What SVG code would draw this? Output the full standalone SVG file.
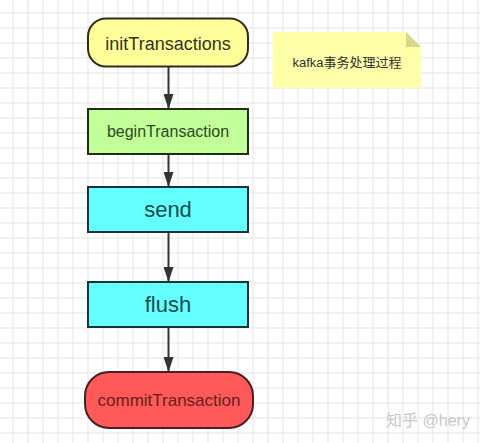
<svg xmlns="http://www.w3.org/2000/svg" width="480" height="443" viewBox="0 0 480 443">
  <defs>
    <pattern id="grid" x="12.5" y="12.5" width="15" height="15" patternUnits="userSpaceOnUse">
      <path d="M0 0.5H15M0.5 0V15" fill="none" stroke="#e4e4e4" stroke-width="1"/>
    </pattern>
    <marker id="arr" markerWidth="15" markerHeight="10" refX="15" refY="5" orient="auto" markerUnits="userSpaceOnUse" viewBox="0 0 15 10">
      <path d="M0 0L15 5L0 10Z" fill="#333333"/>
    </marker>
  </defs>
  <style>
    text { font-family: "Liberation Sans", "Noto Sans CJK SC", Arial, sans-serif; text-anchor: middle; dominant-baseline: central; }
    .conn { stroke: #333333; stroke-width: 2; fill: none; marker-end: url(#arr); }
    .node { stroke-width: 2; }
  </style>
  <rect width="480" height="443" fill="#ffffff"/>
  <rect width="480" height="443" fill="url(#grid)"/>

  <g id="connectors">
    <path class="conn" d="M168.5 67V109"/>
    <path class="conn" d="M168.5 154V187"/>
    <path class="conn" d="M168.5 232V282"/>
    <path class="conn" d="M168.5 327V372"/>
  </g>

  <g id="initTransactions">
    <rect class="node" x="88" y="18.5" width="160" height="48" rx="18" fill="#ffff99" stroke="#2e2e1f"/>
    <text x="168" y="43.5" font-size="18" fill="#333322">initTransactions</text>
  </g>

  <g id="beginTransaction">
    <rect class="node" x="88" y="109" width="160" height="45" fill="#c2ff99" stroke="#1f2e1a"/>
    <text x="168" y="131.5" font-size="16" fill="#2a4a1f">beginTransaction</text>
  </g>

  <g id="send">
    <rect class="node" x="88" y="187" width="160" height="45" fill="#66ffff" stroke="#1a3333"/>
    <text x="168" y="209.5" font-size="22" fill="#1a4d4d">send</text>
  </g>

  <g id="flush">
    <rect class="node" x="88" y="282" width="160" height="45" fill="#66ffff" stroke="#1a3333"/>
    <text x="168" y="304" font-size="22" fill="#1a4d4d">flush</text>
  </g>

  <g id="commitTransaction">
    <rect class="node" x="85" y="372" width="168" height="56" rx="24" fill="#ff5959" stroke="#4a1f1f"/>
    <text x="169" y="400" font-size="17" fill="#661f1f">commitTransaction</text>
  </g>

  <g id="note">
    <path d="M273 32H406L421 47V88H273Z" fill="#ffffaa"/>
    <path d="M406 32L421 47H406Z" fill="#d6d68c"/>
    <text x="347" y="62" font-size="13" fill="#333333">kafka事务处理过程</text>
  </g>

  <text x="428" y="420" font-size="16" fill="#c8c8c8">知乎 @hery</text>
</svg>
